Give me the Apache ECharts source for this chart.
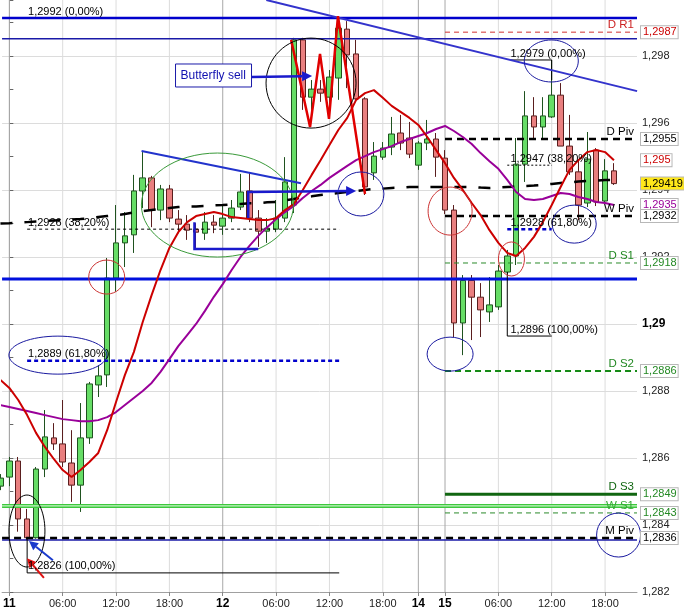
<!DOCTYPE html>
<html><head><meta charset="utf-8">
<script src="https://cdn.jsdelivr.net/npm/echarts@6/dist/echarts.min.js"></script>
<style>html,body{margin:0;padding:0;background:#fff}#c{width:684px;height:614px}</style>
</head><body><div id="c"></div>
<script>
// hourly slots: index 0 = 10th 23:00, slot value = index-1 (11th 00:00 = 0, weekend gap removed)
const openP = [1.28516,1.28543,1.28591,1.28418,1.28362,1.28567,1.28660,1.28642,1.28585,1.28519,
1.28660,1.28818,1.28848,1.29137,1.29242,1.29266,1.29397,1.29436,1.29340,1.29403,
1.29313,1.29298,1.29283,1.29271,1.29304,1.29292,1.29316,1.29349,1.29397,1.29316,
1.29277,1.29283,1.29316,1.29355,1.29848,1.29677,1.29701,1.29677,1.29734,1.29880,
1.29806,1.29672,1.29451,1.29498,1.29528,1.29570,1.29555,1.29474,1.29540,1.29552,
1.29495,1.29340,1.29003,1.29130,1.29080,1.29036,1.29051,1.29155,1.29203,1.29477,
1.29621,1.29588,1.29618,1.29683,1.29531,1.29454,1.29361,1.29519,1.29367,1.29457];
const closeP = [1.28540,1.28591,1.28418,1.28362,1.28567,1.28663,1.28642,1.28588,1.28519,1.28660,
1.28821,1.28845,1.29137,1.29242,1.29263,1.29397,1.29436,1.29340,1.29403,1.29316,
1.29298,1.29280,1.29274,1.29304,1.29295,1.29316,1.29346,1.29394,1.29316,1.29277,
1.29286,1.29316,1.29424,1.29848,1.29677,1.29701,1.29689,1.29737,1.29883,1.29803,
1.29672,1.29409,1.29501,1.29525,1.29567,1.29540,1.29507,1.29540,1.29552,1.29498,
1.29340,1.29003,1.29130,1.29080,1.29042,1.29057,1.29158,1.29203,1.29477,1.29621,
1.29588,1.29621,1.29683,1.29531,1.29454,1.29355,1.29492,1.29364,1.29457,1.29419];
const lowP = [1.28504,1.28516,1.28380,1.28356,1.28359,1.28543,1.28624,1.28573,1.28469,1.28439,
1.28642,1.28782,1.28812,1.29096,1.29170,1.29212,1.29346,1.29289,1.29310,1.29304,
1.29271,1.29251,1.29227,1.29251,1.29271,1.29266,1.29304,1.29340,1.29304,1.29230,
1.29242,1.29274,1.29304,1.29331,1.29639,1.29639,1.29663,1.29639,1.29669,1.29704,
1.29669,1.29385,1.29430,1.29490,1.29504,1.29519,1.29495,1.29460,1.29519,1.29439,
1.29328,1.28961,1.28907,1.28952,1.28961,1.29006,1.29042,1.29146,1.29176,1.29424,
1.29555,1.29555,1.29615,1.29531,1.29445,1.29310,1.29349,1.29352,1.29361,1.29415];
const highP = [1.28552,1.28603,1.28603,1.28448,1.28573,1.28743,1.28704,1.28773,1.28683,1.28764,
1.28827,1.28877,1.29197,1.29355,1.29334,1.29445,1.29513,1.29442,1.29415,1.29415,
1.29340,1.29325,1.29301,1.29334,1.29325,1.29355,1.29370,1.29448,1.29451,1.29340,
1.29316,1.29370,1.29498,1.29854,1.29854,1.29728,1.29728,1.29758,1.29916,1.29904,
1.29848,1.29677,1.29543,1.29543,1.29618,1.29624,1.29603,1.29546,1.29609,1.29570,
1.29519,1.29355,1.29146,1.29146,1.29122,1.29140,1.29176,1.29221,1.29555,1.29695,
1.29677,1.29677,1.29788,1.29719,1.29624,1.29489,1.29573,1.29525,1.29492,1.29480];
const maFast = [1.28833,1.28809,1.28773,1.28728,1.28675,1.28633,1.28597,1.28564,1.28543,1.28564,
1.28588,1.28615,1.28683,1.28767,1.28848,1.28916,1.29006,1.29086,1.29161,1.29227,
1.29274,1.29304,1.29322,1.29328,1.29334,1.29328,1.29319,1.29316,1.29313,1.29310,
1.29310,1.29316,1.29340,1.29358,1.29400,1.29445,1.29489,1.29534,1.29579,1.29615,
1.29669,1.29689,1.29698,1.29675,1.29651,1.29633,1.29615,1.29594,1.29558,1.29519,
1.29480,1.29436,1.29400,1.29361,1.29325,1.29280,1.29242,1.29212,1.29203,1.29227,
1.29260,1.29304,1.29355,1.29409,1.29460,1.29489,1.29513,1.29519,1.29513,1.29489];
const maSlow = [1.28758,1.28752,1.28746,1.28740,1.28734,1.28728,1.28722,1.28716,1.28713,1.28710,
1.28710,1.28713,1.28722,1.28737,1.28758,1.28779,1.28800,1.28824,1.28857,1.28895,
1.28934,1.28967,1.29000,1.29039,1.29081,1.29119,1.29161,1.29200,1.29233,1.29263,
1.29289,1.29313,1.29334,1.29352,1.29376,1.29397,1.29415,1.29436,1.29454,1.29472,
1.29489,1.29501,1.29513,1.29522,1.29531,1.29543,1.29552,1.29561,1.29570,1.29582,
1.29591,1.29576,1.29558,1.29537,1.29510,1.29486,1.29463,1.29430,1.29394,1.29373,
1.29370,1.29373,1.29382,1.29391,1.29388,1.29379,1.29373,1.29364,1.29361,1.29355];
const maLong = [1.29300,1.29301,1.29303,1.29304,1.29306,1.29307,1.29309,1.29310,1.29312,1.29313,
1.29316,1.29319,1.29322,1.29325,1.29328,1.29333,1.29337,1.29340,1.29343,1.29346,
1.29349,1.29351,1.29351,1.29352,1.29354,1.29355,1.29357,1.29358,1.29360,1.29361,
1.29363,1.29364,1.29369,1.29373,1.29378,1.29381,1.29385,1.29388,1.29391,1.29394,
1.29397,1.29400,1.29403,1.29404,1.29406,1.29407,1.29409,1.29409,1.29409,1.29409,
1.29409,1.29409,1.29409,1.29409,1.29407,1.29406,1.29407,1.29409,1.29410,1.29412,
1.29413,1.29415,1.29418,1.29421,1.29422,1.29425,1.29427,1.29428,1.29430,1.29430];

const dayTicks = [0, 24, 46, 49];
const dayTickLabels = ['11', '12', '14', '15'];
const hourTicks = [6, 12, 18, 30, 36, 42, 55, 61, 67];
const hourTickLabels = ['06:00','12:00','18:00','06:00','12:00','18:00','06:00','12:00','18:00'];

// horizontal levels
const fullLevelValues = [1.29913, 1.29851, 1.29134, 1.28457, 1.28355];
const pivotNames = ['D R1', 'D Piv', 'W Piv', 'D S1', 'D S2', 'D S3', 'W S1', 'M Piv'];
const pivotValues = [1.29871, 1.29552, 1.29322, 1.29182, 1.28860, 1.28492, 1.28436, 1.28361];
const pivotBoxText = ['1,2987', '1,2955', '1,2932', '1,2918', '1,2886', '1,2849', '1,2843', '1,2836'];
const fibLeftValues = [1.29913, 1.29283, 1.28890, 1.28257];
const fibLeftText = ['1,2992 (0,00%)', '1,2926 (38,20%)', '1,2889 (61,80%)', '1,2826 (100,00%)'];
const fibRightValues = [1.29788, 1.29474, 1.29283, 1.28964];
const fibRightText = ['1,2979 (0,00%)', '1,2947 (38,20%)', '1,2928 (61,80%)', '1,2896 (100,00%)'];
const trendTop = [[28.9, 1.29967], [70.6, 1.29695]];
const trendMid = [[14.87, 1.29516], [32.8, 1.29420]];
const butterfly = [[31.69, 1.29848], [33.82, 1.29588], [34.94, 1.29806], [35.95, 1.29612], [36.96, 1.29919], [40.0, 1.29388]];

const xMin = -0.818, xMax = 70.59, yMin = 1.282, yMax = 1.29967;
const FONT = "'Liberation Sans', Arial, sans-serif";

const candles = openP.map((o, i) => [i - 1, o, closeP[i], lowP[i], highP[i]]);
const toXY = arr => arr.map((v, i) => [i - 1, v]);

const series = [];
function seg(pts, style, z) {
  series.push({type: 'line', data: pts, showSymbol: false, symbol: 'none', silent: true, z: z, lineStyle: style, animation: false});
}
hourTicks.forEach(s => seg([[s, yMin], [s, yMax]], {color: '#dcdcdc', width: 1}, 1));
dayTicks.forEach(s => seg([[s, yMin], [s, yMax]], {color: '#a8a8a8', width: 1}, 1));

series.push({
  type: 'candlestick', data: candles, barWidth: 6, z: 3,
  itemStyle: {color: '#66dd66', color0: '#e97f7f', borderColor: '#1f521f', borderColor0: '#5a1e1e', borderWidth: 1}
});

// full-width levels
seg([[xMin, fullLevelValues[0]], [xMax, fullLevelValues[0]]], {color: '#0000cc', width: 2.5}, 4);
seg([[xMin, fullLevelValues[1]], [xMax, fullLevelValues[1]]], {color: '#1a1aa8', width: 1.5}, 4);
seg([[xMin, fullLevelValues[2]], [xMax, fullLevelValues[2]]], {color: '#0010dd', width: 3}, 4);
seg([[xMin, fullLevelValues[3]], [xMax, fullLevelValues[3]]], {color: '#3ec83e', width: 4}, 4);
seg([[xMin, fullLevelValues[3]], [xMax, fullLevelValues[3]]], {color: '#c4f4c4', width: 1.2}, 4);
seg([[xMin, fullLevelValues[4]], [xMax, fullLevelValues[4]]], {color: '#1a1aa8', width: 1.5}, 4);
// pivot levels
const pivStart = 49;
const pivStyles = [
  {color: '#d03030', width: 1, type: [5, 4]},
  {color: '#000', width: 2.5, type: [7, 5]},
  {color: '#000', width: 2.5, type: [7, 5]},
  {color: '#2a8a2a', width: 1, type: [5, 4]},
  {color: '#158a15', width: 2, type: [6, 4]},
  {color: '#116611', width: 3},
  {color: '#2a8a2a', width: 1, type: [5, 4]},
  {color: '#000', width: 2.5, type: [7, 5]}
];
pivotValues.forEach((v, i) => {
  const from = (pivotNames[i] === 'M Piv') ? xMin : pivStart;
  seg([[from, v], [xMax, v]], pivStyles[i], 4);
});
// fibonacci left
const fL0 = 2.0, fL1 = 37.1, fR0 = 56.0, fR1 = 61.0;
seg([[fL0, fibLeftValues[1]], [fL1, fibLeftValues[1]]], {color: '#000', width: 1, type: [3, 3]}, 4);
seg([[fL0, fibLeftValues[2]], [fL1, fibLeftValues[2]]], {color: '#0000cc', width: 2.5, type: [4, 3]}, 4);
seg([[fL0, fibLeftValues[3]], [fL1, fibLeftValues[3]]], {color: '#000', width: 1}, 4);
seg([[fL0, pivotValues[7]], [fL0, fibLeftValues[3]]], {color: '#000', width: 1}, 4);
// fibonacci right
seg([[fR0 + 0.4, fibRightValues[0]], [fR1, fibRightValues[0]]], {color: '#000', width: 1}, 4);
seg([[fR1, fibRightValues[0]], [fR1, 1.29728]], {color: '#000', width: 1}, 4);
seg([[fR0, fibRightValues[1]], [fR1, fibRightValues[1]]], {color: '#000', width: 1, type: [2, 2]}, 4);
seg([[fR0, fibRightValues[2]], [fR1, fibRightValues[2]]], {color: '#0000cc', width: 2.5, type: [4, 3]}, 4);
seg([[fR0, fibRightValues[3]], [fR1, fibRightValues[3]]], {color: '#000', width: 1}, 4);
seg([[fR0, 1.29155], [fR0, fibRightValues[3]]], {color: '#000', width: 1}, 4);

// moving averages
series.push({type: 'line', data: toXY(maLong), showSymbol: false, symbol: 'none', z: 5, lineStyle: {color: '#000', width: 2.5, type: [12, 12]}});
series.push({type: 'line', data: toXY(maSlow), showSymbol: false, symbol: 'none', z: 5, lineStyle: {color: '#990099', width: 2}});
series.push({type: 'line', data: toXY(maFast), showSymbol: false, symbol: 'none', z: 5, lineStyle: {color: '#cc0000', width: 2}});
// trend lines & pattern
seg(trendTop, {color: '#3333cc', width: 2}, 6);
seg(trendMid, {color: '#2233cc', width: 2}, 6);
seg(butterfly, {color: '#e00000', width: 2.5}, 6);

const allTicks = dayTicks.concat(hourTicks).sort((a, b) => a - b);

const chart = echarts.init(document.getElementById('c'));
chart.setOption({
  animation: false,
  backgroundColor: '#fff',
  grid: {left: 0, right: 47, top: 0, bottom: 22},
  xAxis: {
    type: 'value', min: xMin, max: xMax,
    splitLine: {show: false},
    axisLine: {lineStyle: {color: '#a0a0a0'}},
    axisTick: {customValues: allTicks, length: 4, lineStyle: {color: '#888'}},
    axisLabel: {
      customValues: allTicks, margin: 6, fontSize: 11, color: '#222', fontFamily: FONT,
      formatter: v => {
        const r = Math.round(v);
        const d = dayTicks.indexOf(r);
        if (d >= 0) return '{d|' + dayTickLabels[d] + '}';
        const h = hourTicks.indexOf(r);
        return h >= 0 ? hourTickLabels[h] : '';
      },
      rich: {d: {fontWeight: 'bold', fontSize: 12, fontFamily: FONT, color: '#000'}}
    }
  },
  yAxis: {
    type: 'value', position: 'right', min: yMin, max: yMax, interval: 0.001,
    axisLine: {show: true, lineStyle: {color: '#a0a0a0'}},
    axisTick: {show: true, length: 4, lineStyle: {color: '#666'}},
    splitLine: {show: true, showMaxLine: false, lineStyle: {color: ['#dcdcdc', 'rgba(0,0,0,0)']}},
    axisLabel: {
      margin: 5, fontSize: 11, color: '#222', fontFamily: FONT,
      formatter: v => {
        const k = Math.round(v * 1000);
        if (Math.abs(v * 1000 - k) > 1e-6 || k % 2) return '';
        const s = (k / 1000).toFixed(3).replace(/0+$/, '').replace('.', ',');
        return k === 1290 ? '{b|' + s + '}' : s;
      },
      rich: {b: {fontWeight: 'bold', fontSize: 12, fontFamily: FONT, color: '#000'}}
    }
  },
  series: series
});

// ---------- annotations (anchored in data coordinates) ----------
const P = (s, p) => chart.convertToPixel({gridIndex: 0}, [s, p]);
const g = [];
const Z = 50;
const ellipses = [
  {at: [33.93, 1.29719], rx: 45, ry: 45, c: '#000'},
  {at: [23.4, 1.29355], rx: 76, ry: 52, c: '#3a9a3a'},
  {at: [39.54, 1.29388], rx: 23, ry: 22, c: '#1a1aa0'},
  {at: [10.95, 1.29140], rx: 18, ry: 17, c: '#cc3333'},
  {at: [49.57, 1.29337], rx: 22, ry: 24, c: '#cc3333'},
  {at: [56.47, 1.29194], rx: 13, ry: 17, c: '#cc3333'},
  {at: [60.95, 1.29785], rx: 27, ry: 21, c: '#1a1aa0'},
  {at: [63.53, 1.29298], rx: 22, ry: 19, c: '#1a1aa0'},
  {at: [49.57, 1.28910], rx: 23, ry: 17, c: '#1a1aa0'},
  {at: [68.52, 1.28370], rx: 22, ry: 22, c: '#1a1aa0'},
  {at: [5.46, 1.28907], rx: 49, ry: 19, c: '#1a1aa0'},
  {at: [1.98, 1.28382], rx: 18, ry: 36, c: '#000'}
];
ellipses.forEach(e => {
  const c = P(e.at[0], e.at[1]);
  g.push({type: 'ellipse', z: Z, silent: true, shape: {cx: c[0], cy: c[1], rx: e.rx, ry: e.ry}, style: {fill: 'none', stroke: e.c, lineWidth: 1}});
});
function arrow(a, b, color, w, hl) {
  const p1 = P(a[0], a[1]), p2 = P(b[0], b[1]);
  const dx = p2[0] - p1[0], dy = p2[1] - p1[1], L = Math.hypot(dx, dy), ux = dx / L, uy = dy / L;
  const hw = hl * 0.5, bx = p2[0] - ux * hl, by = p2[1] - uy * hl;
  g.push({type: 'line', z: Z, silent: true, shape: {x1: p1[0], y1: p1[1], x2: bx, y2: by}, style: {stroke: color, lineWidth: w}});
  g.push({type: 'polygon', z: Z, silent: true, shape: {points: [[p2[0], p2[1]], [bx - uy * hw, by + ux * hw], [bx + uy * hw, by - ux * hw]]}, style: {fill: color}});
}
function poly(pts, color, w) {
  g.push({type: 'polyline', z: Z, silent: true, shape: {points: pts.map(q => P(q[0], q[1]))}, style: {stroke: color, lineWidth: w, fill: 'none'}});
}
arrow([4.9, 1.28295], [2.21, 1.28352], '#1a3acc', 2, 9);
arrow([3.89, 1.28242], [1.98, 1.28301], '#dd1111', 2, 9);
arrow([27.21, 1.29737], [34.05, 1.29740], '#1a1acc', 2.5, 10);
poly([[26.87, 1.29316], [26.87, 1.29394], [38.2, 1.29397]], '#1a1acc', 2.5);
arrow([38.0, 1.29397], [39.0, 1.29397], '#1a1acc', 2.5, 10);
poly([[20.82, 1.29304], [20.82, 1.29224], [27.99, 1.29224]], '#1a1acc', 2.5);

// butterfly sell box
const bx = P(18.69, 1.29776);
g.push({type: 'rect', z: Z, silent: true, shape: {x: bx[0], y: bx[1], width: 76, height: 23}, style: {fill: '#fff', stroke: '#1a1aa8', lineWidth: 1}});
g.push({type: 'text', z: Z + 1, silent: true, x: bx[0] + 5, y: bx[1] + 12, style: {text: 'Butterfly sell', fill: '#1010b0', font: '12px ' + FONT, verticalAlign: 'middle', align: 'left'}});

// fib texts
function label(s, p, text, color, align, dx, dy, size) {
  const q = P(s, p);
  g.push({type: 'text', z: Z + 2, silent: true, x: q[0] + dx, y: q[1] + dy,
    style: {text: text, fill: color, font: (size || 11) + 'px ' + FONT, align: align, verticalAlign: 'bottom'}});
}
fibLeftValues.forEach((v, i) => label(2.1, v, fibLeftText[i], '#000', 'left', 0, -1));
fibRightValues.forEach((v, i) => label(56.36, v, fibRightText[i], '#000', 'left', 0, -1));

// pivot names at right edge
const pivColors = ['#cc2222', '#000', '#000', '#228822', '#228822', '#116611', '#33aa33', '#000'];
pivotValues.forEach((v, i) => label(xMax, v, pivotNames[i], pivColors[i], 'right', -3, -1, 11.5));

// right price boxes
const boxes = [
  [pivotValues[0], pivotBoxText[0], '#cc0000', '#fff'],
  [pivotValues[1], pivotBoxText[1], '#000', '#fff'],
  [maFast[maFast.length - 1], '1,295', '#cc0000', '#fff'],
  [closeP[closeP.length - 1], '1,29419', '#000', '#ffe81a'],
  [maSlow[maSlow.length - 1], '1,2935', '#990099', '#fff'],
  [pivotValues[2], pivotBoxText[2], '#000', '#fff'],
  [pivotValues[3], pivotBoxText[3], '#228822', '#fff'],
  [pivotValues[4], pivotBoxText[4], '#228822', '#fff'],
  [pivotValues[5], pivotBoxText[5], '#228822', '#fff'],
  [pivotValues[6], pivotBoxText[6], '#228822', '#fff'],
  [pivotValues[7], pivotBoxText[7], '#000', '#fff']
];
boxes.forEach(b => {
  const q = P(xMax, b[0]);
  g.push({type: 'text', z: 100, silent: true, x: q[0] + 4, y: q[1],
    style: {text: b[1], fill: b[2], font: '11px ' + FONT, align: 'left', verticalAlign: 'middle',
      backgroundColor: b[3], borderColor: '#b8b8b8', borderWidth: 1, padding: [1, 1, 0, 2]}});
});
chart.setOption({graphic: {elements: g}});
</script>
</body></html>
